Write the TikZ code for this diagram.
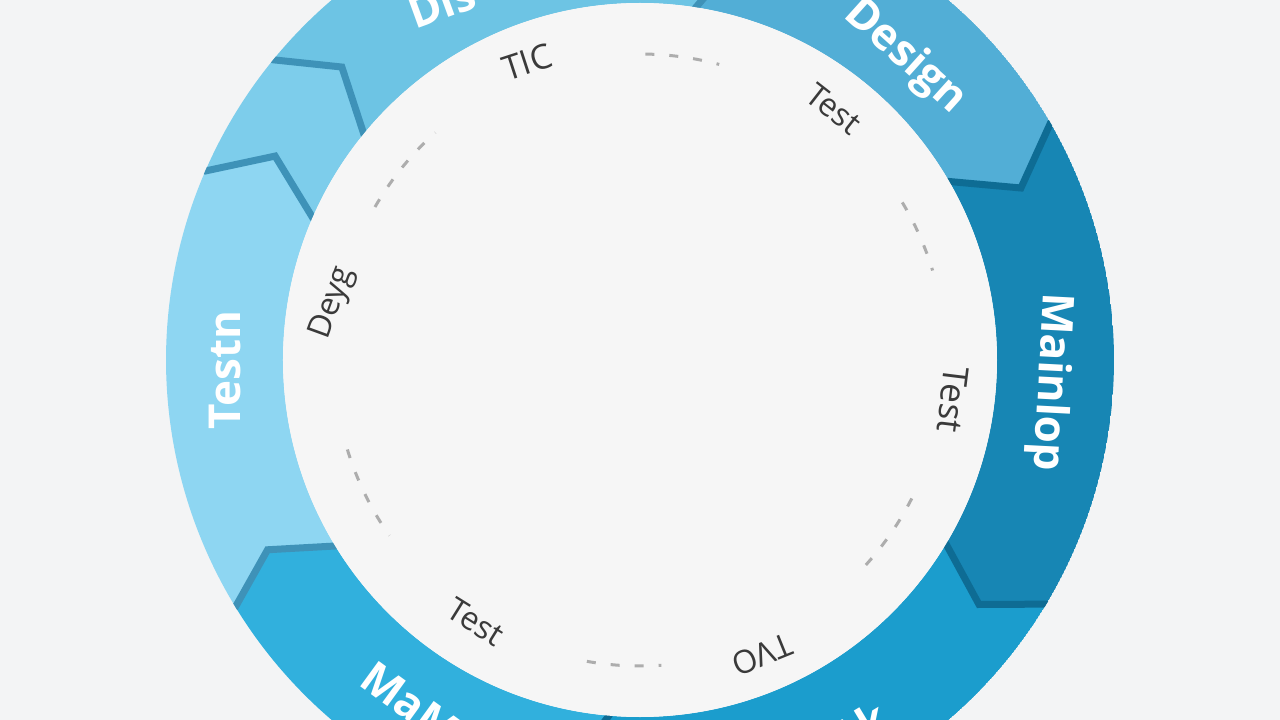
\documentclass[tikz,border=0pt]{standalone}
\usepackage{fontspec}
\setmainfont{Open Sans}
\definecolor{bgc}{HTML}{F3F4F5}
\definecolor{diskc}{HTML}{F6F6F6}
\definecolor{cDesign}{HTML}{52AED6}
\definecolor{cMain}{HTML}{1786B4}
\definecolor{cBR}{HTML}{1B9DCD}
\definecolor{cMaM}{HTML}{31B0DD}
\definecolor{cTestn}{HTML}{8ED6F2}
\definecolor{cSmall}{HTML}{7DCDEB}
\definecolor{cDis}{HTML}{6DC4E4}
\definecolor{bandL}{HTML}{3E92B8}
\definecolor{bandD}{HTML}{0E6C94}
\definecolor{dashc}{HTML}{ADADAD}
\definecolor{labc}{HTML}{3A3A3A}
\newcommand{\ringseg}[5]{%
  \fill[#1] ({#2}:474) -- ({#2-#3}:418) -- ({#2}:357)
    arc[start angle={#2}, end angle={#4}, radius=357]
    -- ({#4-#5}:418) -- ({#4}:474)
    arc[start angle={#4}, end angle={#2}, radius=474] -- cycle;}
\newcommand{\ringband}[3]{%
  \draw[band, #3] ({#1}:480) -- ({#1}:474) -- ({#1-#2}:418) -- ({#1}:357) -- ({#1}:340);}
\begin{document}
\begin{tikzpicture}[x=1pt,y=1pt,
  band/.style={line width=7pt, line join=miter},
  dasharc/.style={draw=dashc, line width=3pt, dash pattern=on 9pt off 15pt},
  ringtext/.style={text=white, font=\fontsize{44}{48}\selectfont\bfseries, inner sep=0pt},
  innertext/.style={text=labc, font=\fontsize{32}{36}\selectfont, inner sep=0pt}]
\useasboundingbox (-640,-360) rectangle (640,360);
\fill[bgc] (-640,-360) rectangle (640,360);
% ring segments
\begin{scope}
\clip (0,0) circle[radius=474];
\ringseg{cDesign}{81}{5}{30}{5.7}
\ringseg{cMain}{30}{5.7}{-31}{4.8}
\ringseg{cBR}{-31}{4.8}{-95}{5}
\ringseg{cMaM}{265}{5}{211.4}{4.4}
\ringseg{cTestn}{211.4}{4.4}{156.5}{5.7}
\ringseg{cSmall}{156.5}{5.7}{140.7}{5.2}
\ringseg{cDis}{140.7}{5.2}{81}{5}
% boundary bands
\ringband{81}{5}{draw=bandL}
\ringband{140.7}{5.2}{draw=bandL}
\ringband{156.5}{5.7}{draw=bandL}
\ringband{211.4}{4.4}{draw=bandL}
\ringband{265}{5}{draw=bandD}
\ringband{-31}{4.8}{draw=bandD}
\ringband{30}{5.7}{draw=bandD}
\end{scope}
% inner disk
\fill[diskc] (0,0) circle[radius=357];
% dashed arcs
\draw[dasharc] (89:306) arc[start angle=89, end angle=75, radius=306];
\draw[dasharc] (150:306) arc[start angle=150, end angle=132, radius=306];
\draw[dasharc] (31:306) arc[start angle=31, end angle=17, radius=306];
\draw[dasharc] (-27:305) arc[start angle=-27, end angle=-44, radius=305];
\draw[dasharc] (260:306) arc[start angle=260, end angle=274, radius=306];
\draw[dasharc] (197:306) arc[start angle=197, end angle=215, radius=306];
% ring labels
\node[ringtext, rotate=-42] (design) at (265,303) {Design};
\node[ringtext, rotate=-93] (mainlop) at (410,-22) {Mainlop};
\node[ringtext, rotate=90] (testn) at (-415,-10) {Testn};
\node[ringtext, rotate=20, anchor=base west] (dis) at (-225,330) {Dis};
\node[ringtext, rotate=-36, anchor=base west] (mam) at (-283,-324) {MaM};
\node[ringtext, rotate=31, anchor=base west] (ak) at (202,-397) {Ak};
% inner labels
\node[innertext, rotate=18, font=\fontsize{34}{38}\selectfont] (tic) at (-113,298) {TIC};
\node[innertext, rotate=-38] (testtr) at (194,251) {Test};
\node[innertext, rotate=-97, font=\fontsize{35}{38}\selectfont] (testr) at (313,-40) {Test};
\node[innertext, rotate=-32] (testbl) at (-164,-262) {Test};
\node[innertext, rotate=70] (deyg) at (-307,57) {Deyg};
\node[innertext, rotate=-158] (tvo) at (122,-295) {TVO};
\end{tikzpicture}
\end{document}
